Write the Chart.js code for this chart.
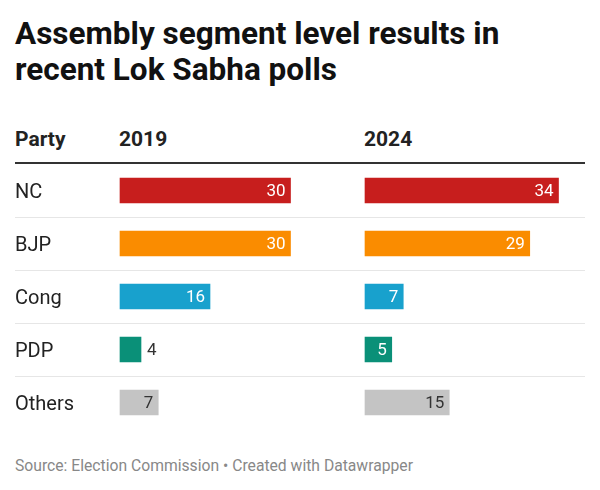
<!DOCTYPE html>
<html lang="en">
<head>
    <meta charset="UTF-8">
    <title>Assembly segment level results</title>
    <style>
        body { margin: 0; width: 600px; height: 490px; background: #fff; font-family: Roboto, sans-serif; color: #222; position: relative; overflow: hidden; }
        h1 { position: absolute; left: 15px; top: 16px; margin: 0; font-size: 31.5px; line-height: 36px; font-weight: 700; color: #111; width: 575px; }
        .head { position: absolute; top: 126px; font-size: 21px; line-height: 26px; font-weight: 700; color: #222; }
        .rule { position: absolute; left: 15px; top: 162px; width: 570px; height: 2px; background: #333; }
        .box { position: absolute; top: 164px; height: 265px; }
        .src { position: absolute; left: 15px; top: 456px; font-size: 15.7px; line-height: 20px; color: #888; }
    </style>
</head>
<body>
    <h1>Assembly segment level results in<br>recent Lok Sabha polls</h1>
    <div class="head" style="left:15px">Party</div>
    <div class="head" style="left:119px">2019</div>
    <div class="head" style="left:364px">2024</div>
    <div class="rule"></div>
    <div class="box" style="left:15px;width:349px"><canvas id="c2019"></canvas></div>
    <div class="box" style="left:364px;width:221px"><canvas id="c2024"></canvas></div>
    <div class="src">Source: Election Commission • Created with Datawrapper</div>

    <script src="https://cdn.jsdelivr.net/npm/chart.js"></script>
<script>
    const parties = ['NC', 'BJP', 'Cong', 'PDP', 'Others'];
    const seats2019 = [30, 30, 16, 4, 7];
    const seats2024 = [34, 29, 7, 5, 15];
    const barColors = ['#c71e1d', '#fa8c00', '#18a1cd', '#0a9078', '#c4c4c4'];
    const textColors = ['#fff', '#fff', '#fff', '#fff', '#333'];

    const pxPerSeat = 5.75;
    const labelW = 104;

    // light lines between rows
    const rowRules = {
        id: 'rowRules',
        beforeDatasetsDraw(chart) {
            const y = chart.scales.y, c = chart.ctx;
            c.save();
            c.strokeStyle = '#e6e6e6';
            c.lineWidth = 1;
            for (let i = 0; i < parties.length - 1; i++) {
                const py = Math.round((y.getPixelForValue(i) + y.getPixelForValue(i + 1)) / 2) + 0.5;
                c.beginPath();
                c.moveTo(0, py);
                c.lineTo(chart.width, py);
                c.stroke();
            }
            c.restore();
        }
    };

    // value labels inside the bar, or just after it if it is too short
    const valueLabels = {
        id: 'valueLabels',
        afterDatasetsDraw(chart) {
            const c = chart.ctx;
            const vals = chart.data.datasets[0].data;
            c.save();
            c.font = '17px Roboto, sans-serif';
            c.textBaseline = 'middle';
            chart.getDatasetMeta(0).data.forEach((bar, i) => {
                const txt = String(vals[i]);
                const w = c.measureText(txt).width;
                const barW = bar.x - bar.base;
                if (w + 16 > barW) {
                    c.fillStyle = '#333';
                    c.textAlign = 'left';
                    c.fillText(txt, bar.x + 5, bar.y + 1);
                } else {
                    c.fillStyle = textColors[i];
                    c.textAlign = 'right';
                    c.fillText(txt, bar.x - 6, bar.y + 1);
                }
            });
            c.restore();
        }
    };

    function makeChart(id, values, showLabels, width) {
        const areaW = showLabels ? width - labelW : width;
        const yAxis = {
            display: showLabels,
            border: { display: false },
            grid: { display: false },
            ticks: {
                crossAlign: 'far',
                color: '#222',
                font: { family: 'Roboto', size: 20 },
                padding: 0,
                labelOffset: 2
            }
        };
        if (showLabels) {
            yAxis.afterFit = scale => {
                scale.width = labelW;
                scale.paddingTop = 0;
                scale.paddingBottom = 0;
            };
        }
        return new Chart(document.getElementById(id), {
            type: 'bar',
            data: {
                labels: parties,
                datasets: [{
                    data: values,
                    backgroundColor: barColors,
                    borderColor: 'rgba(255,255,255,0.35)',
                    borderWidth: 1,
                    borderSkipped: false,
                    barThickness: 27
                }]
            },
            options: {
                indexAxis: 'y',
                responsive: true,
                maintainAspectRatio: false,
                animation: false,
                layout: { padding: 0 },
                plugins: { legend: { display: false }, tooltip: { enabled: false } },
                scales: {
                    x: { display: false, min: 0, max: areaW / pxPerSeat },
                    y: yAxis
                }
            },
            plugins: [rowRules, valueLabels]
        });
    }

    makeChart('c2019', seats2019, true, 349);
    makeChart('c2024', seats2024, false, 221);
</script>
</body>
</html>
